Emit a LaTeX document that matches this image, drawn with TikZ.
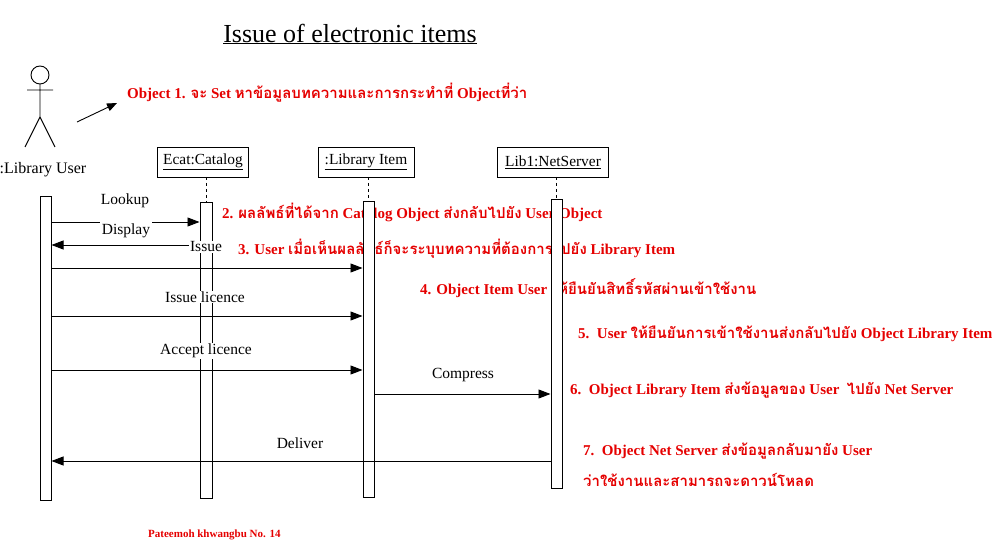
\documentclass[tikz,border=0pt]{standalone}
\usepackage{fontspec}
\setmainfont{Liberation Serif}
\newfontfamily\thf[Script=Thai]{Loma}
\usetikzlibrary{arrows.meta}
\newcommand{\T}[1]{{\thf #1}}
\tikzset{
 msg/.style={-{Triangle[length=12pt,width=9pt]},line width=0.9pt},
 lbl/.style={font=\fontsize{15.5}{16}\selectfont,inner sep=1pt,fill=white},
 red/.style={font=\bfseries\fontsize{15}{16}\selectfont,text=red!90!black,anchor=west,inner sep=0pt},
 obj/.style={draw,line width=0.9pt,minimum height=30pt,font=\fontsize{15.4}{16}\selectfont},
 bar/.style={draw,fill=white,line width=1pt},
}
\begin{document}
\begin{tikzpicture}[x=1pt,y=-1pt]
\useasboundingbox (0,0) rectangle (998,545);
\node[font=\fontsize{26}{27}\selectfont] (title) at (350,34) {\underline{Issue of electronic items}};
% actor
\draw[line width=0.9pt] (40,75) circle (9);
\draw[line width=0.9pt] (40,84) -- (40,117) (27,90) -- (53,90) (25,147) -- (40,117) -- (55,147);
\node[lbl,font=\fontsize{16}{16}\selectfont] (user) at (43,170) {:Library User};
\coordinate (a1) at (77,122); \coordinate (a2) at (117,103);
\draw[-{Triangle[length=10pt,width=8pt]},line width=0.9pt] (a1) -- (a2);
% red texts
\node[red] (r1) at (127,93) {Object 1. \T{จะ} Set \T{หาข้อมูลบทความและการกระทำที่} Object\T{ที่ว่า}};
\node[red] (r2) at (222,212) {2. \T{ผลลัพธ์ที่ได้จาก} Catalog Object \T{ส่งกลับไปยัง} User Object};
\node[red] (r3) at (238,249) {3. User \T{เมื่อเห็นผลลัพธ์ก็จะระบุบทความที่ต้องการไปยัง} Library Item};
\node[red] (r4) at (420,288) {4. Object Item User \T{ให้ยืนยันสิทธิ์รหัสผ่านเข้าใช้งาน}};
\node[red] (r5) at (578,334) {5.\ \ User \T{ให้ยืนยันการเข้าใช้งานส่งกลับไปยัง} Object Library Item};
\node[red] (r6) at (570,390) {6.\ \ Object Library Item \T{ส่งข้อมูลของ} User\ \ \T{ไปยัง} Net Server};
\node[red] (r7) at (583,451) {7.\ \ Object Net Server \T{ส่งข้อมูลกลับมายัง} User};
\node[red] (r7b) at (583,480) {\T{ว่าใช้งานและสามารถจะดาวน์โหลด}};
\node[red,font=\bfseries\fontsize{11}{12}\selectfont] (pat) at (148,535) {Pateemoh khwangbu No. 14};
% objects
\node[obj,minimum width=91pt] (cat) at (203,162) {\underline{Ecat:Catalog}};
\node[obj,minimum width=96pt] (item) at (366,162) {\underline{:Library Item}};
\node[obj,minimum width=111pt] (srv) at (553,162) {\underline{Lib1:NetServer}};
\draw[dashed,line width=0.9pt] (206,177) -- (206,203) (368,177) -- (368,202) (556,177) -- (556,200);
% bars
\node[bar,minimum width=11pt,minimum height=303pt,inner sep=0pt] (bu) at (45.5,348.5) {};
\node[bar,minimum width=12pt,minimum height=295pt,inner sep=0pt] (bc) at (206,350.5) {};
\node[bar,minimum width=11pt,minimum height=295pt,inner sep=0pt] (bi) at (368.5,349.5) {};
\node[bar,minimum width=11pt,minimum height=288pt,inner sep=0pt] (bs) at (556.5,344) {};
% messages
\draw[msg] (bu.east |- 0,222) -- (bc.west |- 0,222);
\draw[msg] (190,245) -- (bu.east |- 0,245);
\draw[msg] (bu.east |- 0,268) -- (bi.west |- 0,268);
\draw[msg] (bu.east |- 0,316) -- (bi.west |- 0,316);
\draw[msg] (bu.east |- 0,370) -- (bi.west |- 0,370);
\draw[msg] (bi.east |- 0,394) -- (bs.west |- 0,394);
\draw[msg] (bs.west |- 0,461) -- (bu.east |- 0,461);
\node[lbl] (l1) at (125,201) {Lookup};
\node[lbl,inner sep=2pt] (l2) at (126,231) {Display};
\node[lbl] (l3) at (206,247) {Issue};
\node[lbl] (l4) at (205,297) {Issue licence};
\node[lbl] (l5) at (206,351) {Accept licence};
\node[lbl] (l6) at (463,375) {Compress};
\node[lbl] (l7) at (300,443) {Deliver};
\end{tikzpicture}
\end{document}
